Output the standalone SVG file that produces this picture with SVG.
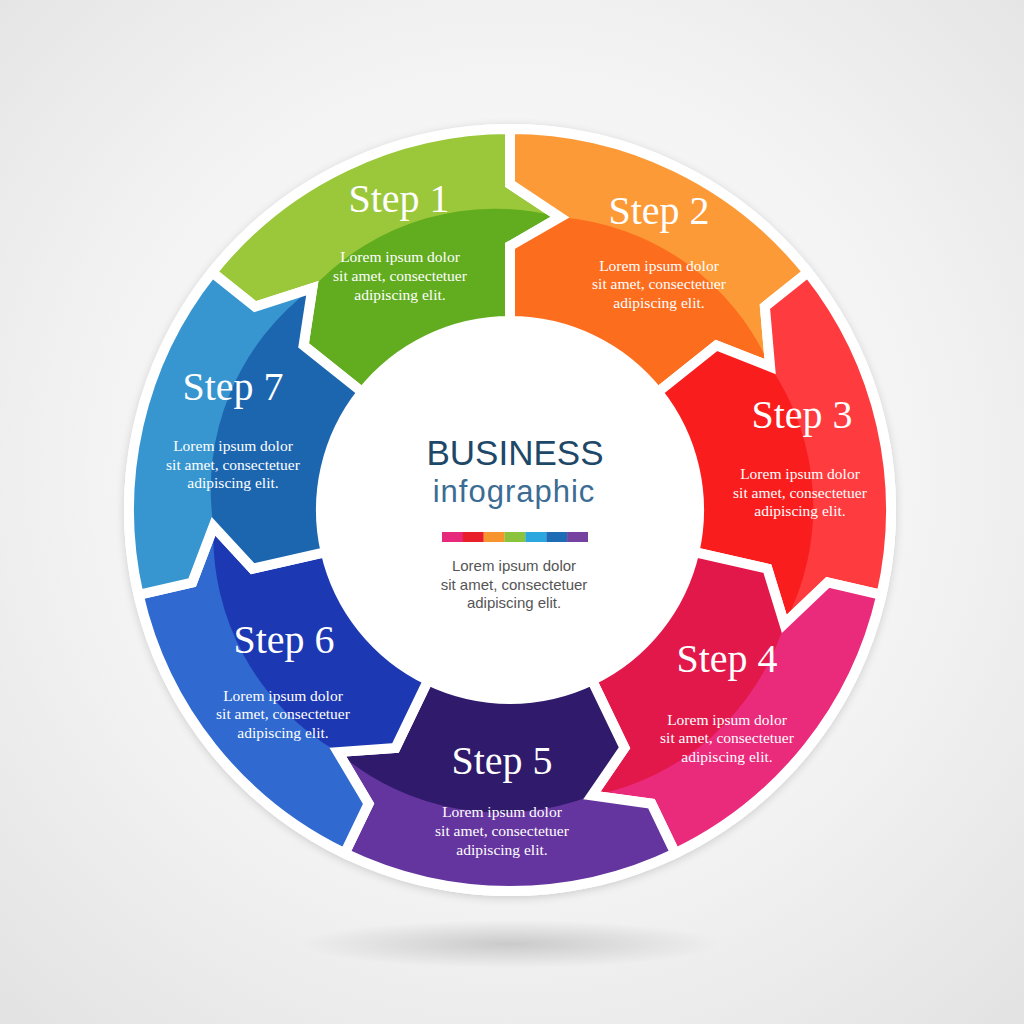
<svg xmlns="http://www.w3.org/2000/svg" xmlns:xlink="http://www.w3.org/1999/xlink" width="1024" height="1024" viewBox="0 0 1024 1024">
<defs>
<radialGradient id="bg" cx="512" cy="470" r="760" gradientUnits="userSpaceOnUse">
<stop offset="0" stop-color="#fdfdfd"/>
<stop offset="0.55" stop-color="#f3f3f3"/>
<stop offset="1" stop-color="#e2e2e2"/>
</radialGradient>
<radialGradient id="floor" cx="0.5" cy="0.5" r="0.5">
<stop offset="0" stop-color="#000" stop-opacity="0.16"/>
<stop offset="1" stop-color="#000" stop-opacity="0"/>
</radialGradient>
<filter id="ds" x="-10%" y="-10%" width="120%" height="120%">
<feDropShadow dx="0" dy="2" stdDeviation="4" flood-color="#000" flood-opacity="0.16"/>
</filter>
<path id="s1" d="M212.1,272.4 A381,381 0 0 1 510,129 L510,184 L560.0,217.2 L510,246 L510,321 A189,189 0 0 0 362.2,392.2 L303.6,345.4 L312.3,288.3 L255.1,306.7 Z"/>
<path id="s2" d="M510,129 A381,381 0 0 1 807.9,272.4 L764.9,306.7 L770.1,366.6 L716.4,345.4 L657.8,392.2 A189,189 0 0 0 510,321 L510,246 L560.0,217.2 L510,184 Z"/>
<path id="s3" d="M807.9,272.4 A381,381 0 0 1 881.4,594.8 L827.8,582.5 L784.3,623.9 L767.4,568.7 L694.3,552.1 A189,189 0 0 0 657.8,392.2 L716.4,345.4 L770.1,366.6 L764.9,306.7 Z"/>
<path id="s4" d="M881.4,594.8 A381,381 0 0 1 675.3,853.3 L651.4,803.7 L591.9,795.5 L624.5,747.9 L592.0,680.3 A189,189 0 0 0 694.3,552.1 L767.4,568.7 L784.3,623.9 L827.8,582.5 Z"/>
<path id="s5" d="M675.3,853.3 A381,381 0 0 1 344.7,853.3 L368.6,803.7 L337.9,752.1 L395.5,747.9 L428.0,680.3 A189,189 0 0 0 592.0,680.3 L624.5,747.9 L591.9,795.5 L651.4,803.7 Z"/>
<path id="s6" d="M344.7,853.3 A381,381 0 0 1 138.6,594.8 L192.2,582.5 L213.5,526.4 L252.6,568.7 L325.7,552.1 A189,189 0 0 0 428.0,680.3 L395.5,747.9 L337.9,752.1 L368.6,803.7 Z"/>
<path id="s7" d="M138.6,594.8 A381,381 0 0 1 212.1,272.4 L255.1,306.7 L312.3,288.3 L303.6,345.4 L362.2,392.2 A189,189 0 0 0 325.7,552.1 L252.6,568.7 L213.5,526.4 L192.2,582.5 Z"/>
</defs>
<style>
.gap{fill:none;stroke:#ffffff;stroke-width:10;stroke-linejoin:miter}
.title{font-family:"Liberation Serif","Times New Roman",serif;font-size:40px;fill:#ffffff;text-anchor:middle}
.lorem{font-family:"Liberation Serif","Times New Roman",serif;font-size:15.5px;fill:#ffffff;text-anchor:middle}
.ctext{font-family:"Liberation Sans",Arial,sans-serif;text-anchor:middle}
</style>
<rect width="1024" height="1024" fill="url(#bg)"/>
<ellipse cx="510" cy="944" rx="210" ry="24" fill="url(#floor)"/>
<circle cx="510" cy="510" r="386" fill="#ffffff" filter="url(#ds)"/>

<g id="step1">
<use xlink:href="#s1" href="#s1" fill="#9bc83a"/>
<path fill="#62ad1f" d="M312.3,288.3 L303.6,345.4 L362.2,392.2 A189,189 0 0 1 510,321 L510,246 L560.0,217.2 A250,250 0 0 0 312.3,288.3 Z"/>
<use xlink:href="#s1" href="#s1" class="gap"/>
<text class="title" x="399" y="212">Step 1</text>
<text class="lorem" x="400" y="262">Lorem ipsum dolor</text>
<text class="lorem" x="400" y="281">sit amet, consectetuer</text>
<text class="lorem" x="400" y="300">adipiscing elit.</text>
</g>

<g id="step2">
<use xlink:href="#s2" href="#s2" fill="#fd9a38"/>
<path fill="#fc6d1e" d="M560.0,217.2 L510,246 L510,321 A189,189 0 0 1 657.8,392.2 L716.4,345.4 L770.1,366.6 A250,250 0 0 0 560.0,217.2 Z"/>
<use xlink:href="#s2" href="#s2" class="gap"/>
<text class="title" x="659" y="224">Step 2</text>
<text class="lorem" x="659" y="271">Lorem ipsum dolor</text>
<text class="lorem" x="659" y="289">sit amet, consectetuer</text>
<text class="lorem" x="659" y="308">adipiscing elit.</text>
</g>

<g id="step3">
<use xlink:href="#s3" href="#s3" fill="#fe3b3f"/>
<path fill="#fa1d1e" d="M770.1,366.6 L716.4,345.4 L657.8,392.2 A189,189 0 0 1 694.3,552.1 L767.4,568.7 L784.3,623.9 A250,250 0 0 0 770.1,366.6 Z"/>
<use xlink:href="#s3" href="#s3" class="gap"/>
<text class="title" x="802" y="428">Step 3</text>
<text class="lorem" x="800" y="479">Lorem ipsum dolor</text>
<text class="lorem" x="800" y="498">sit amet, consectetuer</text>
<text class="lorem" x="800" y="516">adipiscing elit.</text>
</g>

<g id="step4">
<use xlink:href="#s4" href="#s4" fill="#ea2a7b"/>
<path fill="#e3184a" d="M784.3,623.9 L767.4,568.7 L694.3,552.1 A189,189 0 0 1 592.0,680.3 L624.5,747.9 L591.9,795.5 A250,250 0 0 0 784.3,623.9 Z"/>
<use xlink:href="#s4" href="#s4" class="gap"/>
<text class="title" x="727" y="672">Step 4</text>
<text class="lorem" x="727" y="725">Lorem ipsum dolor</text>
<text class="lorem" x="727" y="743">sit amet, consectetuer</text>
<text class="lorem" x="727" y="762">adipiscing elit.</text>
</g>

<g id="step5">
<use xlink:href="#s5" href="#s5" fill="#64349f"/>
<path fill="#2f1a6b" d="M591.9,795.5 L624.5,747.9 L592.0,680.3 A189,189 0 0 1 428.0,680.3 L395.5,747.9 L337.9,752.1 A250,250 0 0 0 591.9,795.5 Z"/>
<use xlink:href="#s5" href="#s5" class="gap"/>
<text class="title" x="502" y="774">Step 5</text>
<text class="lorem" x="502" y="817">Lorem ipsum dolor</text>
<text class="lorem" x="502" y="836">sit amet, consectetuer</text>
<text class="lorem" x="502" y="855">adipiscing elit.</text>
</g>

<g id="step6">
<use xlink:href="#s6" href="#s6" fill="#3069cf"/>
<path fill="#1d38b3" d="M337.9,752.1 L395.5,747.9 L428.0,680.3 A189,189 0 0 1 325.7,552.1 L252.6,568.7 L213.5,526.4 A250,250 0 0 0 337.9,752.1 Z"/>
<use xlink:href="#s6" href="#s6" class="gap"/>
<text class="title" x="284" y="653">Step 6</text>
<text class="lorem" x="283" y="701">Lorem ipsum dolor</text>
<text class="lorem" x="283" y="719">sit amet, consectetuer</text>
<text class="lorem" x="283" y="738">adipiscing elit.</text>
</g>

<g id="step7">
<use xlink:href="#s7" href="#s7" fill="#3796d0"/>
<path fill="#1c66b0" d="M213.5,526.4 L252.6,568.7 L325.7,552.1 A189,189 0 0 1 362.2,392.2 L303.6,345.4 L312.3,288.3 A250,250 0 0 0 213.5,526.4 Z"/>
<use xlink:href="#s7" href="#s7" class="gap"/>
<text class="title" x="233" y="400">Step 7</text>
<text class="lorem" x="233" y="451">Lorem ipsum dolor</text>
<text class="lorem" x="233" y="470">sit amet, consectetuer</text>
<text class="lorem" x="233" y="488">adipiscing elit.</text>
</g>

<g id="center">
<text class="ctext" x="515" y="465" font-size="35" fill="#1e4868">BUSINESS</text>
<text class="ctext" x="514" y="502" font-size="31" letter-spacing="1" fill="#3b6c94">infographic</text>
<rect x="442" y="532" width="21" height="10" fill="#e6297a"/>
<rect x="462.8" y="532" width="21" height="10" fill="#e81f2a"/>
<rect x="483.7" y="532" width="21" height="10" fill="#f7942d"/>
<rect x="504.6" y="532" width="21" height="10" fill="#8bc33d"/>
<rect x="525.4" y="532" width="21" height="10" fill="#2ba7df"/>
<rect x="546.3" y="532" width="21" height="10" fill="#1e6cb5"/>
<rect x="567.1" y="532" width="20.9" height="10" fill="#7642a0"/>
<text class="ctext" x="514" y="571" font-size="15" fill="#555555">Lorem ipsum dolor</text>
<text class="ctext" x="514" y="590" font-size="15" fill="#555555">sit amet, consectetuer</text>
<text class="ctext" x="514" y="608" font-size="15" fill="#555555">adipiscing elit.</text>
</g>
</svg>
